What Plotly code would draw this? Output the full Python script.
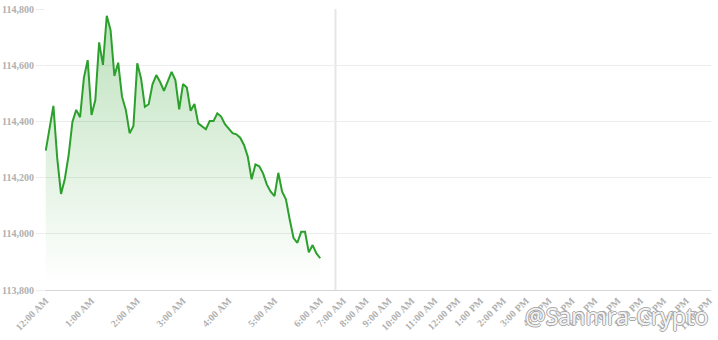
import plotly.graph_objects as go

# 5-minute prices from 12:00 AM to 6:00 AM
prices = [
    114296, 114370, 114455, 114270, 114142, 114195, 114280, 114399, 114441, 114415,
    114555, 114618, 114423, 114476, 114681, 114601, 114776, 114725, 114562, 114609,
    114488, 114441, 114358, 114384, 114607, 114553, 114452, 114461, 114532, 114565,
    114540, 114509, 114544, 114576, 114547, 114443, 114533, 114521, 114438, 114462,
    114393, 114381, 114372, 114401, 114401, 114429, 114417, 114390, 114375, 114358,
    114354, 114342, 114316, 114274, 114194, 114247, 114240, 114215, 114175, 114150,
    114134, 114217, 114150, 114123, 114050, 113985, 113968, 114007, 114007, 113934,
    113960, 113930, 113913,
]
data_times = [f"{(5 * i) // 60:02d}:{(5 * i) % 60:02d}" for i in range(len(prices))]
future_times = [f"{(360 + 10 * i) // 60:02d}:{(360 + 10 * i) % 60:02d}" for i in range(1, 103)]
all_times = data_times + future_times

hour_ticks = [f"{h:02d}:00" for h in range(24)]
hour_labels = ["12:00 AM"] + [f"{h}:00 AM" for h in range(1, 12)] + ["12:00 PM"] + [f"{h}:00 PM" for h in range(1, 12)]

y_ticks = [113800, 114000, 114200, 114400, 114600, 114800]
now_label = "06:40"

tick_font = dict(family="Liberation Serif, Times New Roman, serif", size=10, color="#b0b0b0", weight="bold")

fig = go.Figure()
fig.add_trace(go.Scatter(
    x=future_times, y=[None] * len(future_times), mode="lines",
    showlegend=False, hoverinfo="skip",
))
fig.add_trace(go.Scatter(
    x=data_times, y=prices, mode="lines",
    line=dict(color="#2ca02c", width=2),
    fill="tozeroy",
    fillgradient=dict(
        type="vertical", start=113820, stop=114800,
        colorscale=[[0, "rgba(44,160,44,0.0)"], [1, "rgba(44,160,44,0.32)"]],
    ),
    showlegend=False,
))

idx_now = all_times.index(now_label)
fig.add_shape(type="line", xref="x", yref="paper", x0=idx_now, x1=idx_now, y0=0, y1=1,
              line=dict(color="#e6e6e6", width=2), layer="below")

fig.add_annotation(
    x=0.999, y=-0.092, xref="paper", yref="paper", xanchor="right", yanchor="middle",
    text="@Sanmra-Crypto", showarrow=False,
    font=dict(family="Noto Sans, DejaVu Sans, sans-serif", size=23, color="rgba(255,255,255,0.9)",
              shadow="-1px 0 #a0a0a0, 1px 0 #a0a0a0, 0 -1px #a0a0a0, 0 1px #a0a0a0"),
)

fig.update_layout(
    width=718, height=340,
    margin=dict(l=45, r=7, t=9, b=50),
    paper_bgcolor="white", plot_bgcolor="white",
    xaxis=dict(
        type="category", categoryorder="array", categoryarray=all_times,
        range=[-0.2, len(all_times) - 1 + 0.5],
        tickmode="array", tickvals=hour_ticks, ticktext=hour_labels,
        tickangle=-45, tickfont=tick_font, automargin=False,
        showgrid=False, showline=True, linecolor="#d6d6d6", linewidth=1,
        ticks="", zeroline=False,
    ),
    yaxis=dict(
        range=[113800, 114800], tickmode="array", tickvals=y_ticks,
        tickformat=",d", tickfont=tick_font, automargin=False,
        showgrid=True, gridcolor="#ececec", gridwidth=1,
        zeroline=False, showline=False,
        ticks="outside", ticklen=8, tickcolor="#ececec", tickwidth=1,
    ),
)

fig.write_html("out.html")
